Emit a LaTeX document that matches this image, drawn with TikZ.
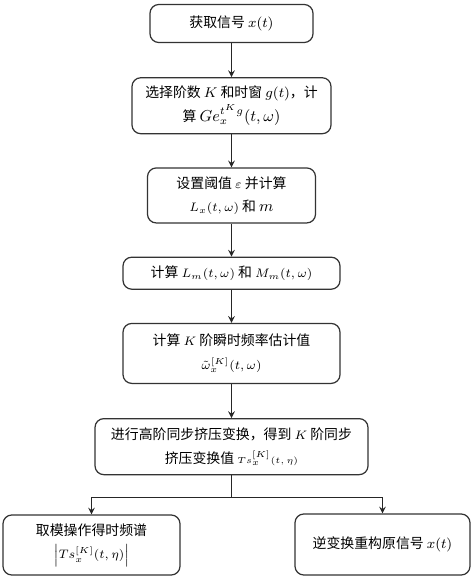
\documentclass[tikz,border=0pt]{standalone}
\usepackage{amsmath,amssymb}
\usepackage{fontspec}
\setmainfont{Noto Sans CJK SC}
\usetikzlibrary{arrows.meta,positioning,calc}

\begin{document}
\begin{tikzpicture}[
    >=stealth,
    stepbox/.style={draw=black!80, line width=0.7pt, rounded corners=5pt,
                    align=center, inner sep=2pt,
                    font=\fontsize{7.9}{13.4}\selectfont},
    flow/.style={->, line width=0.7pt, black!85},
  ]
  \useasboundingbox (0,0) rectangle (9.48,-11.64);

  % === Main column ===
  \node[stepbox, minimum width=3.26cm, minimum height=0.76cm] (getsig)
    at (4.63,-0.47) {获取信号 $x(t)$};

  \node[stepbox, minimum width=3.98cm, minimum height=1.12cm,
        below=0.68cm of getsig] (choose)
    {选择阶数 $K$ 和时窗 $g(t)$，计\\算 {\small$Ge_x^{t^{K}g}(t,\omega)$}};

  \node[stepbox, minimum width=3.36cm, minimum height=1.1cm,
        below=0.66cm of choose] (thresh)
    {设置阈值 {\scriptsize$\varepsilon$} 并计算\\{\scriptsize$L_x(t,\omega)$} 和 {\small$m$}};

  \node[stepbox, minimum width=4.34cm, minimum height=0.64cm,
        below=0.66cm of thresh] (calclm)
    {计算 {\scriptsize$L_m(t,\omega)$} 和 {\scriptsize$M_m(t,\omega)$}};

  \node[stepbox, minimum width=4.34cm, minimum height=1.2cm,
        below=0.66cm of calclm] (instfreq)
    {计算 {\scriptsize$K$} 阶瞬时频率估计值\\{\scriptsize$\tilde{\omega}_x^{[K]}(t,\omega)$}};

  \node[stepbox, minimum width=5.46cm, minimum height=1.12cm,
        below=0.68cm of instfreq] (sst)
    {进行高阶同步挤压变换，得到 {\scriptsize$K$} 阶同步\\挤压变换值 {\tiny$Ts_x^{[K]}(t,\eta)$}};

  % === Bottom pair ===
  \node[stepbox, minimum width=3.54cm, minimum height=1.2cm] (modulus)
    at (1.83,-10.9)
    {取模操作得时频谱\\{\scriptsize$\left|Ts_x^{[K]}(t,\eta)\right|$}};

  \node[stepbox, minimum width=3.5cm, minimum height=1.22cm] (recon)
    at (7.65,-10.89) {逆变换重构原信号 $x(t)$};

  % === Connectors ===
  \draw[flow] (getsig) -- (choose);
  \draw[flow] (choose) -- (thresh);
  \draw[flow] (thresh) -- (calclm);
  \draw[flow] (calclm) -- (instfreq);
  \draw[flow] (instfreq) -- (sst);

  \coordinate (split) at ($(sst.south)+(0,-0.44)$);
  \draw[line width=0.7pt, black!85] (sst.south) -- (split);
  \draw[flow] (split) -| (modulus.north);
  \draw[flow] (split) -| (recon.north);

\end{tikzpicture}
\end{document}
